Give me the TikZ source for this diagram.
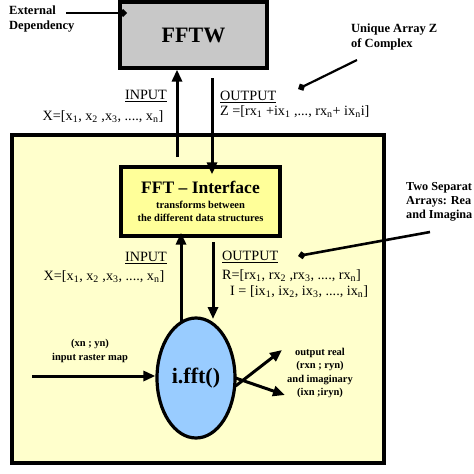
\documentclass[tikz,border=0pt]{standalone}
\usepackage{fontspec}
\setmainfont{Liberation Serif}
\usetikzlibrary{arrows.meta,shapes.geometric}
\definecolor{boxgray}{HTML}{C8C8C8}
\definecolor{sysyellow}{HTML}{FFFFCC}
\definecolor{ifyellow}{HTML}{FFFF99}
\definecolor{ellblue}{HTML}{99CCFF}
\newcommand{\fs}[1]{\fontsize{#1}{#1}\selectfont}
\tikzset{
  thickbox/.style={draw=black,line width=3.2pt,inner sep=0pt},
  flow/.style={line width=3pt,-{Triangle[length=12pt,width=10pt]}},
  pointer/.style={line width=#1,-{Diamond[length=8pt,width=8pt]}},
  lbl/.style={inner sep=0pt,font=\bfseries\fs{12.5}},
  eq/.style={inner sep=0pt,font=\fs{14.2}},
  small/.style={inner sep=0pt,font=\bfseries\fs{10.5},align=center},
}
\begin{document}
\begin{tikzpicture}[x=1pt,y=-1pt]
\useasboundingbox (0,0) rectangle (474,474);
% boxes
\node[thickbox,fill=boxgray,minimum width=147pt,minimum height=66pt] (fftw) at (193.5,35) {\bfseries\fs{22}FFTW};
\node[thickbox,fill=sysyellow,minimum width=372pt,minimum height=328pt] (sys) at (198,299) {};
\node[thickbox,fill=ifyellow,minimum width=159pt,minimum height=69pt,align=center] (iface) at (200.5,201.5)
  {{\bfseries\fs{17.5}FFT -- Interface}\\[3pt]{\bfseries\fs{10.5}transforms between}\\[1pt]{\bfseries\fs{10.5}the different data structures}};
\node[thickbox,ellipse,fill=ellblue,minimum width=78pt,minimum height=120pt] (ifft) at (196,378) {\bfseries\fs{22}i.fft()};
% coordinates
\coordinate (upA) at (177,157);
\coordinate (dnA) at (212,78);
\coordinate (upB) at (181,321);
\coordinate (dnB) at (213,242);
\coordinate (rin) at (32,376);
\coordinate (oreal) at (282,350);
\coordinate (oimag) at (285,395);
\coordinate (ext) at (66,13);
\coordinate (extend) at (127,13);
\coordinate (uq) at (357,60);
\coordinate (uqend) at (298,89);
\coordinate (two) at (430,232);
\coordinate (twoend) at (298,256);
% flows
\draw[flow] (upA) -- (fftw.south -| upA);
\draw[flow] (dnA) -- ([yshift=-9pt]iface.north -| dnA);
\draw[flow] (upB) -- ([yshift=5pt]iface.south -| upB);
\draw[flow] (dnB) -- (dnB |- 0,319);
\draw[flow] (rin) -- (ifft.west |- rin);
\draw[flow] ([xshift=-1pt,yshift=-8pt]ifft.east) -- (oreal);
\draw[flow] ([xshift=-1pt]ifft.east) -- (oimag);
% pointers
\draw[pointer=1.6pt] (ext) -- (extend);
\draw[pointer=2.2pt] (uq) -- (uqend);
\draw[pointer=2.6pt] (two) -- (twoend);
% labels
\node[lbl,anchor=north west,align=left] (extl) at (9,6) {External\\[2pt]Dependency};
\node[lbl,anchor=north west,align=left] (uql) at (351,24) {Unique Array Z\\[2pt]of Complex};
\node[lbl,anchor=north west,align=left,font=\bfseries\fs{12.2}] (twol) at (406,182) {Two Separat\\[2pt]Arrays: Rea\\[2pt]and Imagina};
\node[eq] (in1) at (146,96) {\underline{INPUT}};
\node[eq] (x1) at (103,117) {X=[x\textsubscript{1}, x\textsubscript{2} ,x\textsubscript{3}, ...., x\textsubscript{n}]};
\node[eq,anchor=west] (out1) at (220,97) {\underline{OUTPUT}};
\node[eq,anchor=west] (z1) at (220,112) {Z =[rx\textsubscript{1} +ix\textsubscript{1} ,..., rx\textsubscript{n}+ ix\textsubscript{n}i]};
\node[eq] (in2) at (146,258) {\underline{INPUT}};
\node[eq] (x2) at (104,277) {X=[x\textsubscript{1}, x\textsubscript{2} ,x\textsubscript{3}, ...., x\textsubscript{n}]};
\node[eq,anchor=west] (out2) at (222,257) {\underline{OUTPUT}};
\node[eq,anchor=west] (r2) at (222,276) {R=[rx\textsubscript{1}, rx\textsubscript{2} ,rx\textsubscript{3}, ...., rx\textsubscript{n}]};
\node[eq,anchor=west] (i2) at (230,292) {I = [ix\textsubscript{1}, ix\textsubscript{2}, ix\textsubscript{3}, ...., ix\textsubscript{n}]};
\node[small] (raster) at (90,351) {(xn ; yn)\\[3pt]input raster map};
\node[small] (outl) at (320,373) {output real\\[3pt](rxn ; ryn)\\[3pt]and imaginary\\[3pt](ixn ;iryn)};
\end{tikzpicture}
\end{document}
